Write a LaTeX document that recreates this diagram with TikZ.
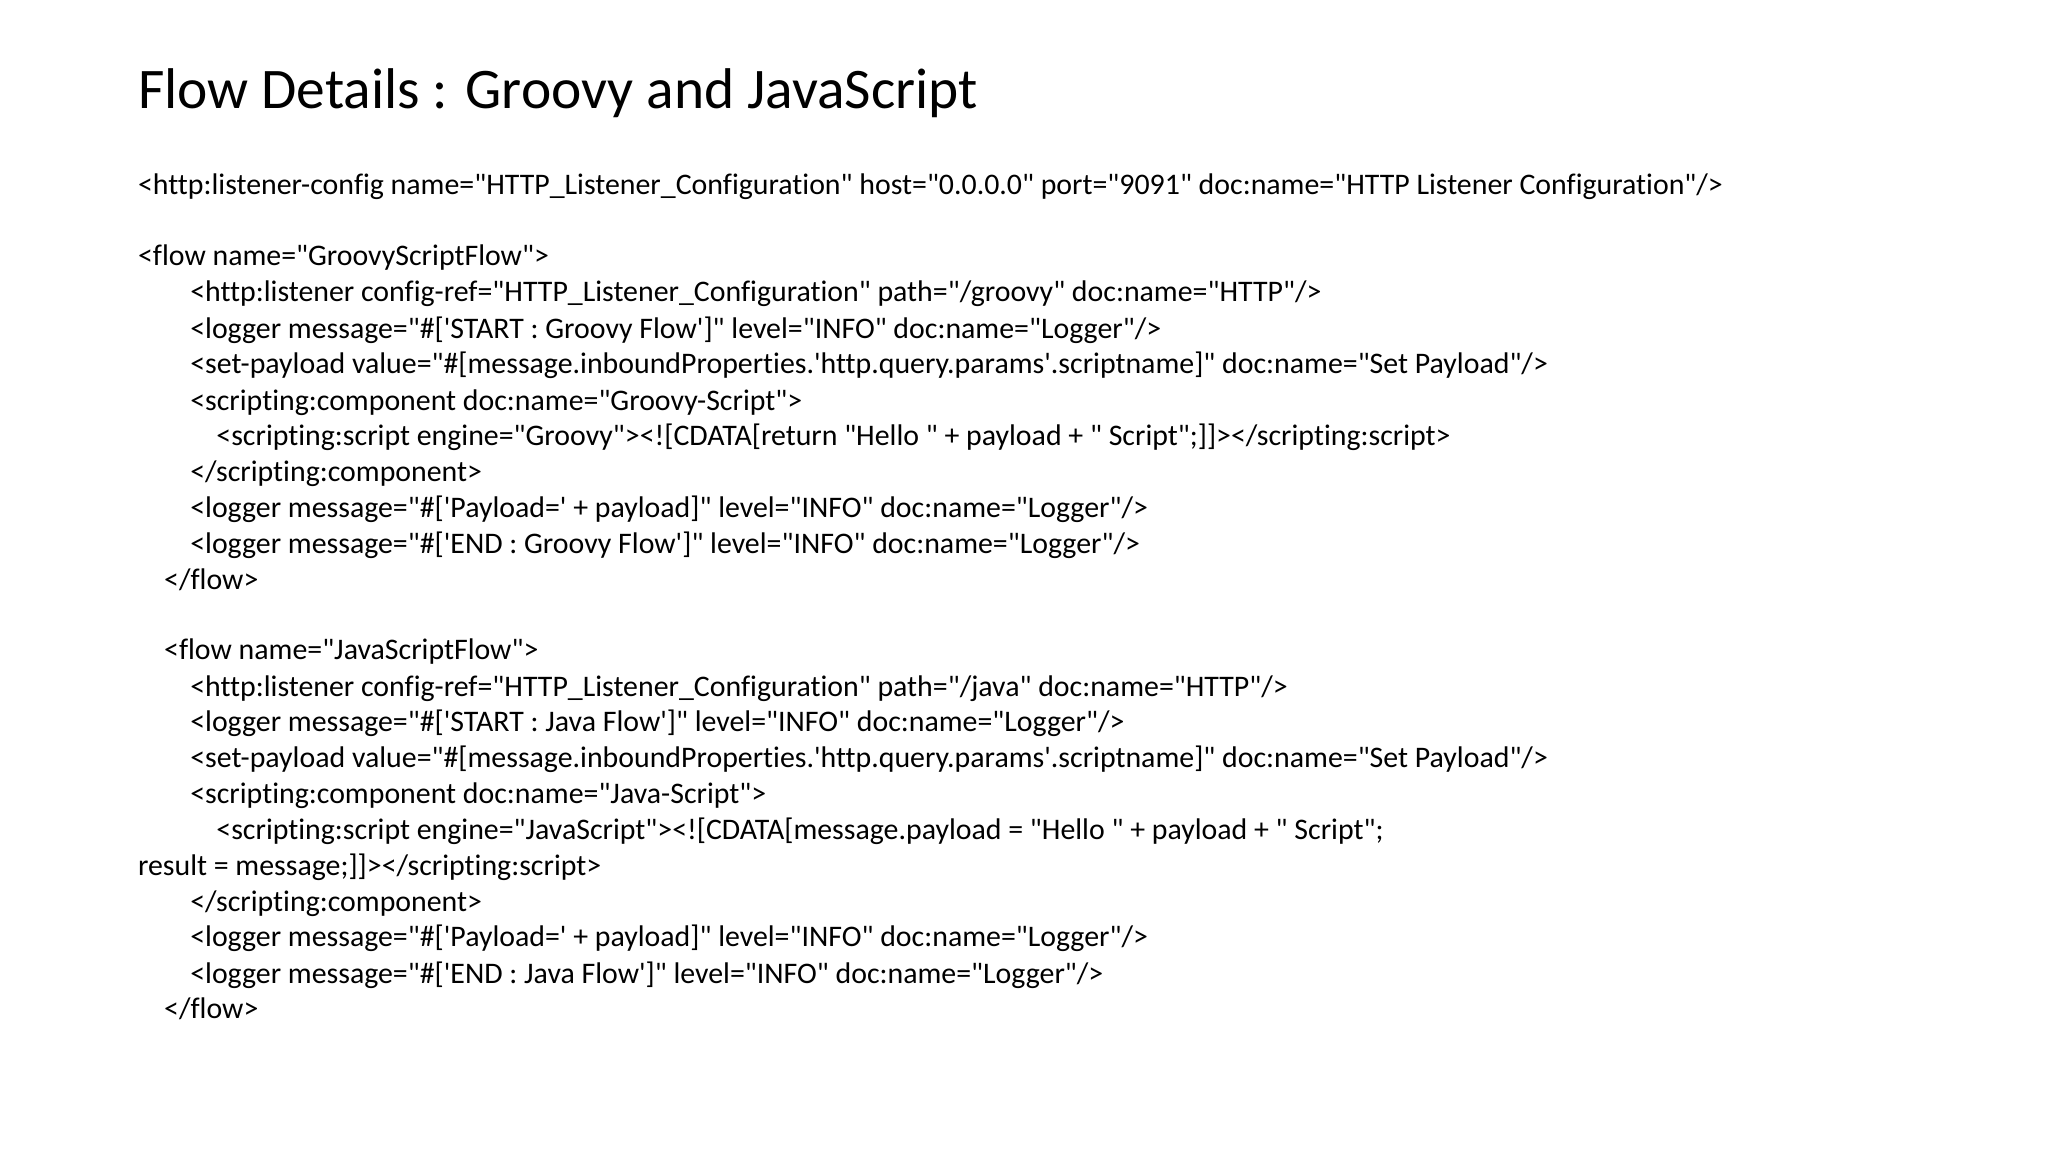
\documentclass[tikz,border=0pt]{standalone}
\usepackage{fontspec}
\setmainfont{Carlito}[Ligatures={NoCommon}]
\newcommand{\qq}{\textquotesingle}
\newcommand{\dq}{\textquotedbl}
\begin{document}
\begin{tikzpicture}[x=0.01cm,y=-0.01cm,
  ln/.style={anchor=base west,inner sep=0pt,font=\fontsize{6.5pt}{8pt}\selectfont},
  ttl/.style={anchor=base west,inner sep=0pt,font=\fontsize{12.5pt}{14pt}\selectfont}]
\useasboundingbox (0,0) rectangle (1568,882);
\node[ttl] (t) at (105,83) {Flow Details : Groovy and JavaScript};
\node[ln] (l1) at (105,149) {<http:listener-config name=\dq HTTP\_Listener\_Configuration\dq{} host=\dq 0.0.0.0\dq{} port=\dq 9091\dq{} doc:name=\dq HTTP Listener Configuration\dq/>};
\node[ln] (l2) at (105,203) {<flow name=\dq GroovyScriptFlow\dq>};
\node[ln] (l3) at (145,231) {<http:listener config-ref=\dq HTTP\_Listener\_Configuration\dq{} path=\dq/groovy\dq{} doc:name=\dq HTTP\dq/>};
\node[ln] (l4) at (145,259) {<logger message=\dq\#[\qq START : Groovy Flow\qq]\dq{} level=\dq INFO\dq{} doc:name=\dq Logger\dq/>};
\node[ln] (l5) at (145,286) {<set-payload value=\dq\#[message.inboundProperties.\qq http.query.params\qq.scriptname]\dq{} doc:name=\dq Set Payload\dq/>};
\node[ln] (l6) at (145,314) {<scripting:component doc:name=\dq Groovy-Script\dq>};
\node[ln] (l7) at (165,341) {<scripting:script engine=\dq Groovy\dq><![CDATA[return \dq Hello \dq{} + payload + \dq{} Script\dq;]]></scripting:script>};
\node[ln] (l8) at (145,369) {</scripting:component>};
\node[ln] (l9) at (145,396) {<logger message=\dq\#[\qq Payload=\qq{} + payload]\dq{} level=\dq INFO\dq{} doc:name=\dq Logger\dq/>};
\node[ln] (l10) at (145,424) {<logger message=\dq\#[\qq END : Groovy Flow\qq]\dq{} level=\dq INFO\dq{} doc:name=\dq Logger\dq/>};
\node[ln] (l11) at (125,451) {</flow>};
\node[ln] (l12) at (125,505) {<flow name=\dq JavaScriptFlow\dq>};
\node[ln] (l13) at (145,533) {<http:listener config-ref=\dq HTTP\_Listener\_Configuration\dq{} path=\dq/java\dq{} doc:name=\dq HTTP\dq/>};
\node[ln] (l14) at (145,560) {<logger message=\dq\#[\qq START : Java Flow\qq]\dq{} level=\dq INFO\dq{} doc:name=\dq Logger\dq/>};
\node[ln] (l15) at (145,588) {<set-payload value=\dq\#[message.inboundProperties.\qq http.query.params\qq.scriptname]\dq{} doc:name=\dq Set Payload\dq/>};
\node[ln] (l16) at (145,615) {<scripting:component doc:name=\dq Java-Script\dq>};
\node[ln] (l17) at (165,643) {<scripting:script engine=\dq JavaScript\dq><![CDATA[message.payload = \dq Hello \dq{} + payload + \dq{} Script\dq;};
\node[ln] (l18) at (105,670) {result = message;]]></scripting:script>};
\node[ln] (l19) at (145,698) {</scripting:component>};
\node[ln] (l20) at (145,725) {<logger message=\dq\#[\qq Payload=\qq{} + payload]\dq{} level=\dq INFO\dq{} doc:name=\dq Logger\dq/>};
\node[ln] (l21) at (145,753) {<logger message=\dq\#[\qq END : Java Flow\qq]\dq{} level=\dq INFO\dq{} doc:name=\dq Logger\dq/>};
\node[ln] (l22) at (125,780) {</flow>};
\end{tikzpicture}
\end{document}
